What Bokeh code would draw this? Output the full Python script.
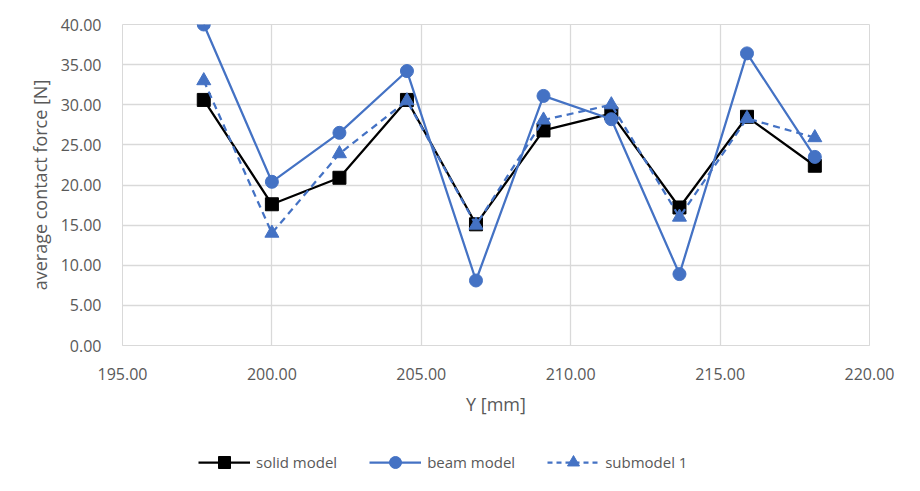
from bokeh.plotting import figure
from bokeh.layouts import column
from bokeh.models import Legend, LegendItem, Range1d, FixedTicker, NumeralTickFormatter
from bokeh.embed import file_html
from bokeh.resources import INLINE

# data
y_mm = [197.72, 200.00, 202.26, 204.52, 206.83, 209.09, 211.36, 213.64, 215.90, 218.17]
solid_model = [30.6, 17.6, 20.9, 30.6, 15.1, 26.8, 28.9, 17.2, 28.5, 22.4]
beam_model = [40.0, 20.4, 26.5, 34.2, 8.1, 31.1, 28.2, 8.9, 36.4, 23.5]
submodel_1 = [33.0, 14.0, 23.9, 30.5, 15.0, 28.1, 30.0, 16.0, 28.3, 25.9]
x_ticks = [195, 200, 205, 210, 215, 220]
y_ticks = [0, 5, 10, 15, 20, 25, 30, 35, 40]
series_labels = ["solid model", "beam model", "submodel 1"]

BLUE = "#4472C4"
GRAY = "#595959"
GRID = "#d9d9d9"
FONT = "Open Sans"

p = figure(width=912, height=425, output_backend="svg", toolbar_location=None,
           x_range=Range1d(195, 220), y_range=Range1d(0, 40))
p.min_border_left = 122
p.min_border_right = 43
p.min_border_top = 24
p.min_border_bottom = 80
p.outline_line_color = GRID
p.background_fill_color = "white"
p.border_fill_color = "white"

for ax in (p.xaxis[0], p.yaxis[0]):
    ax.major_tick_line_color = None
    ax.minor_tick_line_color = None
    ax.major_label_text_font = FONT
    ax.major_label_text_font_size = "16px"
    ax.major_label_text_color = GRAY
    ax.axis_label_text_font = FONT
    ax.axis_label_text_font_size = "18px"
    ax.axis_label_text_font_style = "normal"
    ax.axis_label_text_color = GRAY
    ax.formatter = NumeralTickFormatter(format="0.00")

p.xaxis.ticker = FixedTicker(ticks=x_ticks)
p.yaxis.ticker = FixedTicker(ticks=y_ticks)
p.xaxis.axis_line_color = GRID
p.yaxis.axis_line_color = None
p.xaxis.major_label_standoff = 16
p.yaxis.major_label_standoff = 15
p.xaxis.axis_label = "Y [mm]"
p.yaxis.axis_label = "average contact force [N]"
p.xaxis.axis_label_standoff = 9
p.yaxis.axis_label_standoff = 6

p.xgrid.grid_line_color = GRID
p.ygrid.grid_line_color = GRID
p.xgrid.grid_line_width = 1.3
p.ygrid.grid_line_width = 1.3

l1 = p.line(y_mm, solid_model, line_color="black", line_width=2.25)
m1 = p.scatter(y_mm, solid_model, marker="square", size=13, fill_color="black", line_color="black")
l2 = p.line(y_mm, beam_model, line_color=BLUE, line_width=2.25)
m2 = p.scatter(y_mm, beam_model, marker="circle", size=13, fill_color=BLUE, line_color=BLUE)
l3 = p.line(y_mm, submodel_1, line_color=BLUE, line_width=2.25, line_dash="7 5")
m3 = p.scatter(y_mm, submodel_1, marker="triangle", size=14, fill_color=BLUE, line_color=BLUE)

# legend-only strip below the chart (its proxy glyphs sit outside its ranges)
q = figure(width=912, height=58, output_backend="svg", toolbar_location=None,
           x_range=Range1d(0, 1), y_range=Range1d(0, 1))
q.min_border_left = 0
q.min_border_right = 0
q.min_border_top = 0
q.min_border_bottom = 0
q.axis.visible = False
q.grid.visible = False
q.outline_line_color = None
off = [-10, -11]
ql1 = q.line(off, off, line_color="black", line_width=2.25)
qm1 = q.scatter(off, off, marker="square", size=13, fill_color="black", line_color="black")
ql2 = q.line(off, off, line_color=BLUE, line_width=2.25)
qm2 = q.scatter(off, off, marker="circle", size=13, fill_color=BLUE, line_color=BLUE)
ql3 = q.line(off, off, line_color=BLUE, line_width=2.25, line_dash="5 4")
qm3 = q.scatter(off, off, marker="triangle", size=14, fill_color=BLUE, line_color=BLUE)

legend = Legend(items=[
    LegendItem(label=series_labels[0], renderers=[ql1, qm1]),
    LegendItem(label=series_labels[1], renderers=[ql2, qm2]),
    LegendItem(label=series_labels[2], renderers=[ql3, qm3]),
], orientation="horizontal", location=(76, 6), border_line_color=None,
    background_fill_alpha=0,
    label_text_font=FONT, label_text_font_size="15px", label_text_color=GRAY,
    glyph_width=52, glyph_height=30, label_standoff=6, spacing=32,
    margin=0, padding=8)
q.add_layout(legend, "center")

open("out.html", "w").write(file_html(column(p, q, spacing=0), INLINE))
